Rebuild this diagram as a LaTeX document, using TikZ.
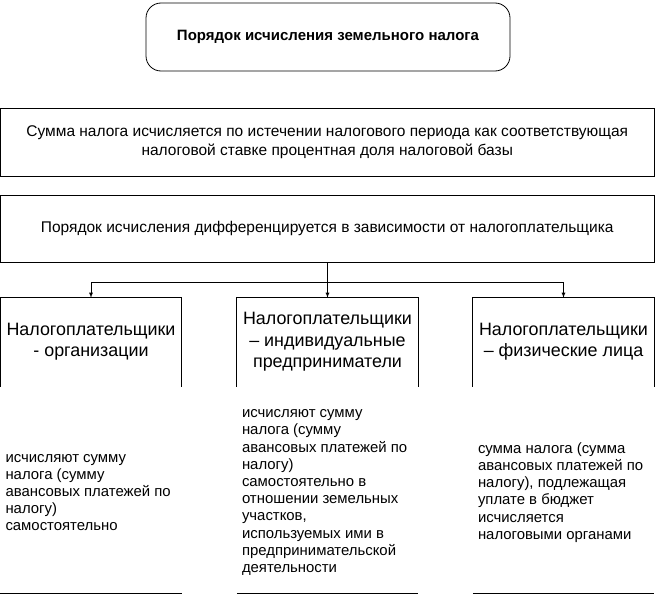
\documentclass[tikz,border=0pt]{standalone}
\usepackage{fontspec}
\setmainfont{Liberation Sans}
\usepackage{tikz}

\begin{document}
\begin{tikzpicture}[x=1pt,y=-1pt]
% Styles des cadres et des flèches
\tikzstyle{fleche}=[->,>=latex,line width=0.8pt]
\tikzstyle{trait}=[line width=0.8pt]
\tikzstyle{cadre}=[draw,line width=0.8pt,rectangle,inner sep=0pt,align=center]
\tikzstyle{colonne}=[rectangle,minimum width=181pt,minimum height=295pt,inner sep=0pt]
\tikzstyle{entete}=[align=center,font=\fontsize{17.9}{21.5}\selectfont]
\tikzstyle{corps}=[anchor=west,align=left,inner sep=0pt,font=\fontsize{14.9}{17.2}\selectfont]

\useasboundingbox (0,0) rectangle (656,597);

% Les trois cadres du haut
\node[cadre,rounded corners=15pt,minimum width=364pt,minimum height=68pt,
      font=\bfseries\fontsize{15}{18}\selectfont] (titre) at (328,37)
      {Порядок исчисления земельного налога};
\node[cadre,minimum width=653.5pt,minimum height=68pt,
      font=\fontsize{15.5}{19}\selectfont] (somme) at (327.25,142)
      {Сумма налога исчисляется по истечении налогового периода как соответствующая\\
       налоговой ставке процентная доля налоговой базы};
\node[cadre,minimum width=653.5pt,minimum height=67pt,
      font=\fontsize{15.5}{19}\selectfont] (ordre) at (327.25,228.5)
      {Порядок исчисления дифференцируется в зависимости от налогоплательщика};

% Les colonnes des contribuables
\foreach \x/\n/\tete/\texte in {
    91/org/{Налогоплательщики\\- организации}/{исчисляют сумму\\налога (сумму\\авансовых платежей по\\налогу)\\самостоятельно},
    327.5/ip/{Налогоплательщики\\– индивидуальные\\предприниматели}/{исчисляют сумму\\налога (сумму\\авансовых платежей по\\налогу)\\самостоятельно в\\отношении земельных\\участков,\\используемых ими в\\предпринимательской\\деятельности},
    563.5/fiz/{Налогоплательщики\\– физические лица}/{сумма налога (сумма\\авансовых платежей по\\налогу), подлежащая\\уплате в бюджет\\исчисляется\\налоговыми органами}}{
    \node[colonne] (\n) at (\x,445.5) {};
    \draw[trait] (\n.north west) ++(0,89) -- (\n.north west) -- (\n.north east) -- ++(0,89);
    \draw[trait] (\n.south west) -- (\n.south east);
    \node[entete] (\n-tete) at ([yshift=-44pt]\n.north) {\tete};
    \node[corps] (\n-texte) at ([xshift=5pt,yshift=-47pt]\n.west) {\texte};
}

% Les flèches de répartition
\coordinate (embr) at ([yshift=-20pt]ordre.south);
\draw[trait] (ordre.south) -- (embr);
\foreach \n in {org,ip,fiz}{
    \draw[fleche] (embr) -| (\n.north);
}
\end{tikzpicture}
\end{document}
